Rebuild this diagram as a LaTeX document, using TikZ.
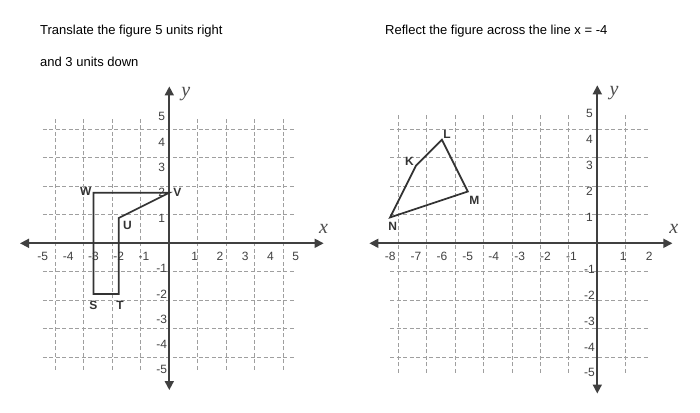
\documentclass[tikz,border=0pt]{standalone}
\usepackage{fontspec}
\setmainfont{Liberation Sans}
\newfontfamily\mathserif{Liberation Serif}
\usetikzlibrary{arrows.meta}
\tikzset{
 gridl/.style={draw=gray!75, dashed, line width=0.9pt, dash pattern=on 4pt off 2.5pt},
 axisl/.style={draw=black!75, line width=1.7pt, {Triangle[length=9pt,width=9pt]}-{Triangle[length=9pt,width=9pt]}},
 fig/.style={draw=black!80, line width=1.7pt},
 tick/.style={font=\fontsize{12}{12}\selectfont, text=black!75, inner sep=0pt},
 pt/.style={font=\fontsize{12}{12}\selectfont\bfseries, text=black!80, inner sep=1pt},
 axlab/.style={font=\fontsize{20}{20}\selectfont\mathserif\itshape, text=black!70},
 title/.style={font=\fontsize{13}{13}\selectfont, anchor=west, inner sep=0pt}
}
\begin{document}
\begin{tikzpicture}[x=1pt,y=-1pt]
\useasboundingbox (0,0) rectangle (700,412);
\node[title] (t1) at (40,31) {Translate the figure 5 units right};
\node[title] (t2) at (40,62) {and 3 units down};
\node[title] (t3) at (385,31) {Reflect the figure across the line x = -4};
% left graph
\begin{scope}[shift={(169.3,243.3)}, x=25.3pt, y=25.3pt]
 \draw[gridl] (-5,-5) grid (5,5);
 \coordinate (lxa) at (-5.9,0); \coordinate (lxb) at (6.1,0);
 \coordinate (lya) at (0,-5.8); \coordinate (lyb) at (0,6.2);
 \draw[axisl] (lxa) -- (lxb);
 \draw[axisl] (lya) -- (lyb);
 \node[axlab] (lx) at (6.1,0.55) {x};
 \node[axlab] (ly) at (0.65,5.9) {y};
 \foreach \i in {-5,...,-1,1,2,...,5}{
  \node[tick] (lxt\i) at (\i,-0.5) {\i};
  \node[tick] (lyt\i) at (-0.3,\i) {\i};}
 \coordinate (S) at (-3,-2); \coordinate (T) at (-2,-2); \coordinate (U) at (-2,1);
 \coordinate (V) at (0,2); \coordinate (W) at (-3,2);
 \draw[fig] (S) -- (T) -- (U) -- (V) -- (W) -- cycle;
 \node[pt] (lS) at (-3,-2.45) {S};
 \node[pt] (lT) at (-1.95,-2.45) {T};
 \node[pt] (lU) at (-1.65,0.7) {U};
 \node[pt] (lV) at (0.32,2) {V};
 \node[pt] (lW) at (-3.3,2.05) {W};
\end{scope}
% right graph
\begin{scope}[shift={(597.3,243.3)}, x=25.9pt, y=25.9pt]
 \draw[gridl] (-8,-5) grid (2,5);
 \coordinate (rxa) at (-8.8,0); \coordinate (rxb) at (2.9,0);
 \coordinate (rya) at (0,-5.8); \coordinate (ryb) at (0,6.1);
 \draw[axisl] (rxa) -- (rxb);
 \draw[axisl] (rya) -- (ryb);
 \node[axlab] (rx) at (2.95,0.55) {x};
 \node[axlab] (ry) at (0.65,5.8) {y};
 \foreach \i in {-8,...,-1,1,2}{
  \node[tick] (rxt\i) at (\i,-0.5) {\i};}
 \foreach \i in {-5,...,-1,1,2,...,5}{
  \node[tick] (ryt\i) at (-0.3,\i) {\i};}
 \coordinate (N) at (-8,1); \coordinate (K) at (-7,3); \coordinate (L) at (-6,4);
 \coordinate (M) at (-5,2);
 \draw[fig] (N) -- (K) -- (L) -- (M) -- cycle;
 \node[pt] (lN) at (-7.9,0.65) {N};
 \node[pt] (lK) at (-7.25,3.15) {K};
 \node[pt] (lL) at (-5.8,4.2) {L};
 \node[pt] (lM) at (-4.75,1.65) {M};
\end{scope}
\end{tikzpicture}
\end{document}
